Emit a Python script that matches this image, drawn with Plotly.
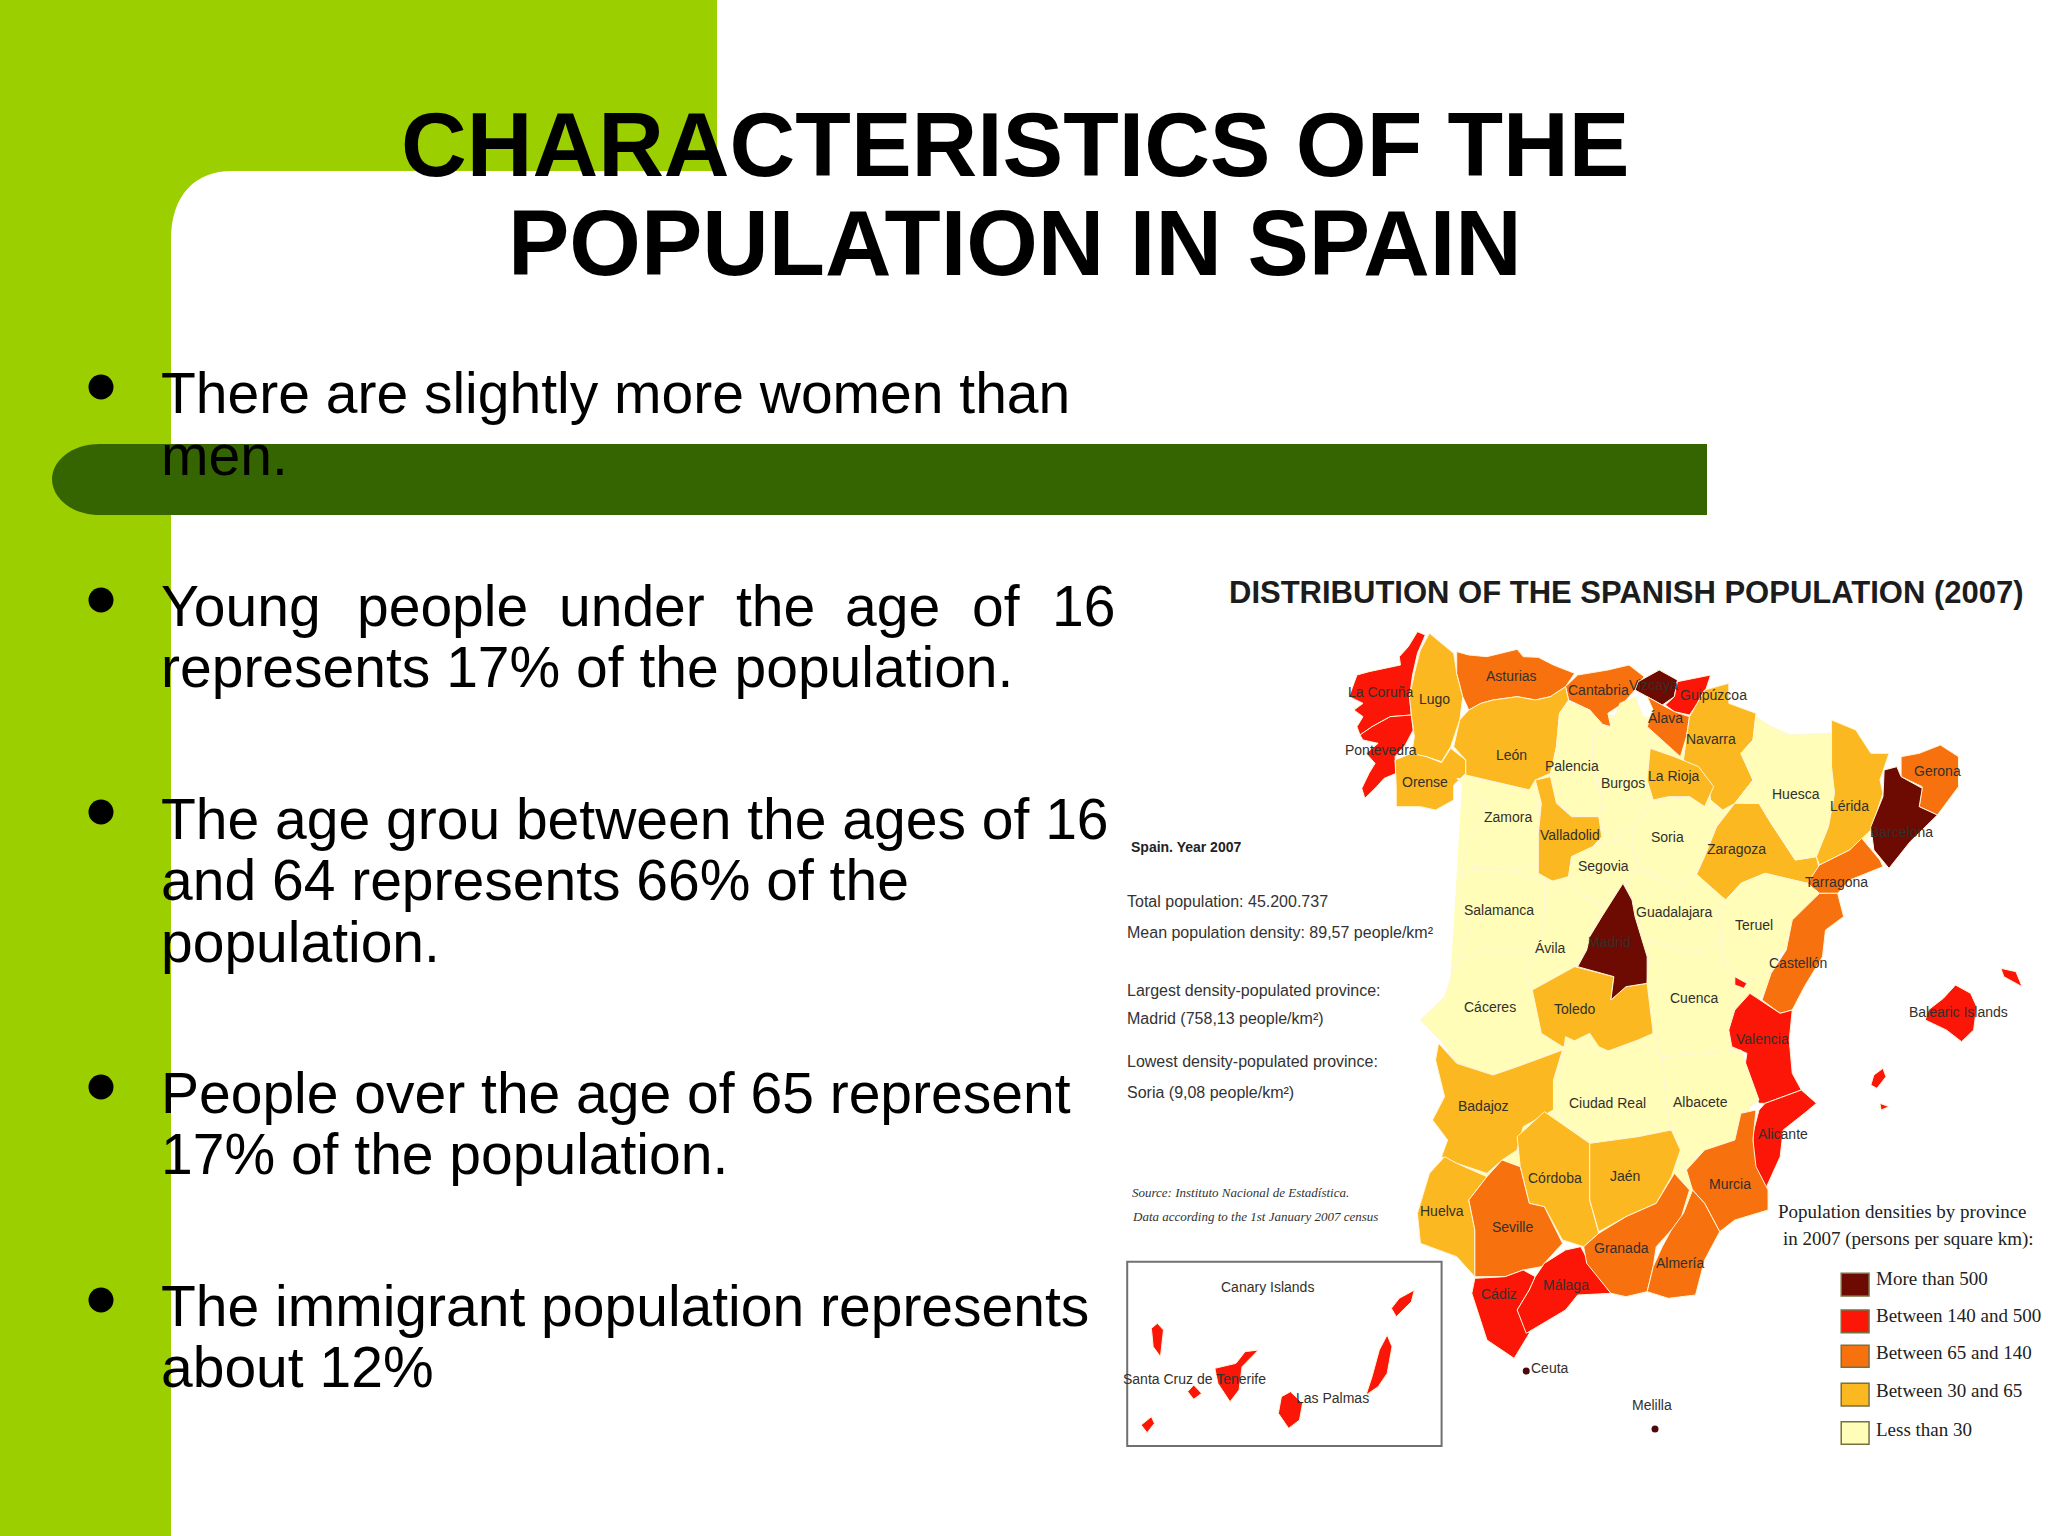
import plotly.graph_objects as go

# ---------- slide text ----------
TITLE_LINES = ["CHARACTERISTICS OF THE", "POPULATION IN SPAIN"]
BODY_LINES = [
    "There are slightly more women than", "men.",
    "represents 17% of the population.",
    "The age grou between the ages of 16", "and 64 represents 66% of the", "population.",
    "People over the age of 65 represent", "17% of the population.",
    "The immigrant population represents", "about 12%",
]
BODY_Y = [393, 455, 667, 819, 880, 942, 1093, 1154, 1306, 1367]
JUSTIFIED_WORDS = ["Young", "people", "under", "the", "age", "of", "16"]
JUSTIFIED_X = [159, 355, 557, 734, 843, 970, 1050]
JUSTIFIED_Y = 606
BULLET_Y = [387, 600, 812, 1087, 1300]

# ---------- map: density classes ----------
CLASS_COLORS = {"gt500": "#6d0a02", "140_500": "#fb1607", "65_140": "#f8710f",
                "30_65": "#fbb820", "lt30": "#fffdb8"}
LEGEND_LABELS = ["More than 500", "Between 140 and 500", "Between 65 and 140",
                 "Between 30 and 65", "Less than 30"]
LEGEND_KEYS = ["gt500", "140_500", "65_140", "30_65", "lt30"]

S = 1380  # offset of the southern half of the traced outlines
def south(pts):
    return [(x, y + S) for x, y in pts]

MAINLAND_FILL = [(600,700),(590,1000),(580,1300),(575,1500),(580,1800),(660,2000),(900,2100),(1050,1900),(1080,1750),(1050,1500),(1100,1350),(1170,1050),(1270,900),(1290,700),(1100,550),(800,520)]

PROVINCES = [
 ("La Coruña", "140_500", [(525,275),(538,285),(525,340),(517,405),(512,470),(515,525),(480,530),(450,560),(430,585),(425,560),(435,530),(420,510),(435,490),(412,470),(418,440),(425,405),(445,395),(470,385),(497,375),(495,350),(510,320)]),
 ("Pontevedra", "140_500", [(515,525),(518,570),(505,615),(488,650),(490,700),(470,715),(455,745),(438,775),(433,745),(445,700),(455,670),(440,640),(460,610),(435,600),(430,585),(450,560),(480,530)]),
 ("Lugo", "30_65", [(545,280),(565,310),(585,340),(590,400),(600,470),(595,540),(580,620),(565,665),(540,650),(515,645),(520,590),(515,525),(512,470),(520,400),(530,330)]),
 ("Orense", "30_65", [(488,660),(515,640),(540,650),(565,668),(580,625),(605,660),(605,700),(585,735),(585,780),(555,810),(530,800),(490,800),(490,740)]),
 ("Asturias", "65_140", [(590,335),(610,345),(640,350),(665,340),(690,328),(700,350),(725,352),(750,375),(785,400),(770,440),(745,470),(720,480),(690,470),(650,480),(630,490),(610,510),(600,470),(590,400)]),
 ("Cantabria", "65_140", [(790,405),(840,390),(875,375),(900,410),(885,450),(865,490),(840,520),(845,560),(825,550),(810,510),(775,480),(770,440)]),
 ("León", "30_65", [(610,510),(630,490),(650,480),(690,470),(720,480),(745,470),(770,440),(775,480),(760,520),(755,620),(745,700),(720,720),(710,750),(650,725),(605,705),(605,660),(585,620),(595,540)]),
 ("Palencia", "lt30", [(760,520),(775,485),(810,510),(830,550),(815,590),(815,680),(830,780),(825,830),(780,830),(750,770),(745,710),(755,620)]),
 ("Burgos", "lt30", [(860,490),(885,470),(905,560),(915,620),(905,720),(915,780),(880,860),(850,900),(830,870),(830,760),(815,660),(815,590),(845,560)]),
 ("Vizcaya", "gt500", [(890,425),(925,390),(955,420),(950,470),(930,495),(905,470),(885,450)]),
 ("Guipúzcoa", "140_500", [(955,425),(1010,405),(1000,460),(975,525),(950,515),(935,495),(950,470)]),
 ("Álava", "65_140", [(905,470),(930,495),(950,515),(975,530),(970,590),(960,650),(930,600),(905,560),(915,510)]),
 ("Navarra", "30_65", [(1000,450),(1040,430),(1040,490),(1085,520),(1080,600),(1060,640),(1080,720),(1050,790),(1030,810),(1010,780),(1005,720),(965,660),(975,530)]),
 ("La Rioja", "30_65", [(910,625),(950,650),(990,680),(1015,740),(1000,800),(975,770),(940,770),(915,780),(905,720)]),
 ("Zamora", "lt30", [(590,715),(650,725),(710,750),(725,790),(725,880),(725,970),(680,990),(620,980),(595,1010),(610,900),(640,800)]),
 ("Valladolid", "30_65", [(720,720),(745,710),(755,790),(780,830),(825,830),(830,890),(815,920),(780,950),(775,1010),(755,1030),(725,1000),(725,880),(730,790)]),
 ("Segovia", "lt30", [(775,1010),(780,950),(815,920),(850,900),(880,920),(890,985),(870,1030),(830,1090),(790,1060)]),
 ("Soria", "lt30", [(880,860),(915,785),(975,770),(1000,800),(1030,810),(1020,860),(1000,950),(985,1000),(950,1040),(895,985),(880,920)]),
 ("Zaragoza", "30_65", [(1050,790),(1090,790),(1110,850),(1150,960),(1185,950),(1190,990),(1170,1030),(1100,1000),(1060,1030),(1035,1080),(985,1010),(1000,950),(1020,860)]),
 ("Huesca", "lt30", [(1085,530),(1130,585),(1210,580),(1210,680),(1215,760),(1205,860),(1185,950),(1150,960),(1110,850),(1090,790),(1050,790),(1080,720),(1060,640),(1080,600)]),
 ("Lérida", "30_65", [(1210,540),(1250,570),(1275,640),(1305,640),(1290,720),(1295,760),(1275,870),(1240,930),(1190,975),(1185,950),(1205,860),(1215,760),(1210,680)]),
 ("Gerona", "65_140", [(1325,650),(1355,640),(1390,615),(1420,650),(1420,740),(1385,825),(1355,800),(1360,740),(1325,710)]),
 ("Barcelona", "gt500", [(1297,690),(1318,680),(1325,710),(1360,745),(1355,800),(1385,825),(1340,905),(1305,985),(1280,930),(1275,860),(1295,770)]),
 ("Tarragona", "65_140", [(1260,895),(1290,960),(1295,980),(1240,1020),(1220,1060),(1190,1060),(1170,1030),(1190,975),(1240,930)]),
 ("Teruel", "lt30", [(1035,1080),(1060,1030),(1100,1000),(1170,1030),(1190,1060),(1180,1100),(1145,1140),(1135,1230),(1110,1250),(1110,1300),(1070,1320),(1030,1280),(1030,1190),(1020,1130)]),
 ("Castellón", "65_140", [(1190,1060),(1220,1060),(1230,1130),(1200,1170),(1195,1250),(1165,1340),(1145,1410),(1125,1420),(1095,1380),(1110,1300),(1135,1230),(1145,1140)]),
 ("Guadalajara", "lt30", [(890,985),(950,1040),(985,1000),(1035,1080),(1020,1130),(1030,1190),(1000,1240),(960,1230),(910,1200),(885,1130),(870,1030)]),
 ("Ávila", "lt30", [(735,1030),(775,1010),(790,1060),(830,1100),(810,1190),(805,1230),(785,1280),(715,1350),(700,1290),(725,1230),(735,1130)]),
 ("Salamanca", "lt30", [(590,1030),(620,985),(680,990),(735,1025),(735,1130),(725,1230),(640,1230),(590,1260),(610,1170)]),
 ("Cáceres", "lt30", [(590,1260),(640,1230),(725,1230),(700,1290),(715,1350),(730,1420),(730,1480),(760,1530),(690,1580),(650,1605),(590,1570),(565,1505),(530,1440),(570,1370)]),
 ("Toledo", "30_65", [(715,1350),(785,1280),(850,1310),(845,1380),(870,1340),(905,1330),(915,1400),(915,1480),(890,1500),(855,1545),(825,1520),(810,1480),(765,1520),(730,1480)]),
 ("Madrid", "gt500", [(865,1030),(880,1080),(885,1130),(905,1250),(905,1330),(870,1340),(845,1380),(850,1310),(790,1280),(805,1230),(810,1190),(830,1130)]),
 ("Cuenca", "lt30", [(910,1200),(960,1230),(1000,1240),(1030,1190),(1030,1280),(1070,1320),(1045,1390),(1045,1500),(1060,1530),(930,1550),(915,1480),(905,1330)]),
 ("Valencia", "140_500", [(1075,1360),(1095,1385),(1125,1420),(1145,1410),(1140,1500),(1145,1600),(1160,1650),(1100,1690),(1090,1690),(1065,1600),(1070,1540),(1045,1520),(1040,1470),(1050,1410)]),
 ("Ademuz", "140_500", [(1050,1310),(1070,1330),(1065,1345),(1050,1335)]),
 ("Alicante", "140_500", south([(1160,270),(1185,310),(1165,340),(1130,390),(1125,470),(1100,570),(1080,500),(1080,400),(1090,330),(1100,310)])),
 ("Albacete", "lt30", south([(930,170),(1060,150),(1090,300),(1060,340),(1050,420),(1000,450),(960,510),(955,440),(945,390),(935,280)])),
 ("Murcia", "65_140", south([(1060,340),(1085,330),(1080,420),(1085,500),(1105,570),(1105,630),(1050,660),(1025,695),(1000,610),(980,570),(970,510),(1000,450),(1050,420)])),
 ("Ciudad Real", "lt30", south([(770,110),(830,160),(890,120),(930,170),(935,280),(945,390),(890,410),(810,430),(750,330),(750,240),(765,180)])),
 ("Badajoz", "30_65", south([(560,130),(590,190),(650,225),(690,200),(765,150),(750,240),(750,330),(700,380),(690,450),(665,480),(640,520),(590,490),(565,470),(575,420),(550,360),(570,290),(555,180)])),
 ("Córdoba", "30_65", south([(735,335),(810,430),(810,600),(825,700),(800,740),(765,720),(735,620),(710,610),(695,500),(690,410)])),
 ("Jaén", "30_65", south([(810,430),(890,410),(945,390),(960,450),(945,530),(920,610),(870,650),(825,695),(810,600)])),
 ("Huelva", "30_65", south([(570,470),(590,490),(640,530),(610,600),(620,690),(620,830),(590,770),(530,730),(525,640),(545,520)])),
 ("Sevilla", "65_140", south([(640,530),(665,480),(695,500),(710,610),(735,620),(765,730),(730,800),(700,810),(670,830),(620,830),(620,690),(610,600)])),
 ("Cádiz", "140_500", south([(620,835),(670,830),(700,810),(720,830),(710,870),(690,930),(710,1000),(685,1075),(640,1020),(615,880)])),
 ("Málaga", "140_500", south([(735,790),(770,750),(795,740),(810,790),(845,880),(790,885),(770,930),(705,1000),(690,930),(710,870),(720,830)])),
 ("Granada", "65_140", south([(825,700),(870,650),(920,610),(950,520),(975,570),(960,660),(945,690),(920,740),(915,800),(905,875),(870,890),(845,880),(805,790),(800,740)])),
 ("Almería", "65_140", south([(980,570),(1000,610),(1025,695),(1000,780),(985,885),(940,895),(905,875),(915,800),(930,740),(945,690),(965,640)])),
 ("Mallorca", "140_500", [(1415,1335),(1440,1360),(1450,1400),(1445,1470),(1425,1505),(1400,1470),(1365,1440),(1370,1410),(1395,1375)]),
 ("Menorca", "140_500", [(1490,1285),(1515,1295),(1525,1340),(1495,1310)]),
 ("Ibiza", "140_500", south([(1295,205),(1300,230),(1285,265),(1275,255),(1280,225)])),
 ("Formentera", "140_500", south([(1290,310),(1305,320),(1292,330)])),
 ("El Hierro", "140_500", south([(85,1250),(90,1270),(78,1298),(68,1275)])),
 ("La Palma", "140_500", south([(95,970),(105,990),(100,1070),(88,1040),(85,985)])),
 ("La Gomera", "140_500", south([(155,1155),(168,1180),(155,1198),(145,1175)])),
 ("Tenerife", "140_500", south([(262,1050),(235,1100),(230,1170),(215,1205),(195,1150),(190,1105),(225,1090),(240,1055)])),
 ("Gran Canaria", "140_500", south([(315,1175),(335,1210),(330,1260),(312,1285),(295,1240),(300,1190)])),
 ("Fuerteventura", "140_500", south([(475,1005),(483,1040),(475,1120),(460,1160),(440,1185),(450,1130),(462,1050)])),
 ("Lanzarote", "140_500", south([(520,870),(515,905),(490,950),(482,925),(495,895)])),
]

CITY_NAMES = ["Ceuta", "Melilla"]
CITY_X = [705, 918]
CITY_Y = [1113 + S, 1287 + S]

MAP_LABELS = [
 ("La Coruña",465,455),("Lugo",553,478),("Asturias",680,408),("Cantabria",825,450),("Vizcaya",915,435),
 ("Guipúzcoa",1015,465),("Álava",935,535),("Navarra",1010,597),("Pontevedra",465,630),("León",680,645),
 ("Orense",537,725),("Palencia",780,678),("Burgos",865,728),("La Rioja",950,708),("Huesca",1152,762),
 ("Lérida",1240,797),("Gerona",1385,692),("Zamora",675,830),("Valladolid",777,885),("Soria",938,890),
 ("Zaragoza",1053,927),("Barcelona",1325,875),("Segovia",833,977),("Tarragona",1218,1025),("Salamanca",660,1110),
 ("Guadalajara",950,1115),("Teruel",1082,1155),("Ávila",745,1225),("Madrid",843,1205),("Castellón",1155,1270),
 ("Cáceres",645,1400),("Toledo",785,1407),("Cuenca",983,1373),("Balearic Islands",1420,1415),
 ("Valencia",1095,118+S),("Badajoz",635,318+S),("Ciudad Real",840,310+S),("Albacete",993,305+S),("Alicante",1130,402+S),
 ("Córdoba",753,533+S),("Jaén",868,527+S),("Murcia",1042,553+S),("Huelva",565,632+S),("Seville",682,680+S),
 ("Granada",862,743+S),("Almería",960,790+S),("Cádiz",660,882+S),("Málaga",770,855+S),("Ceuta",745,1105+S),
 ("Melilla",913,1215+S),("Canary Islands",277,860+S),("Santa Cruz de Tenerife",157,1138+S),("Las Palmas",385,1193+S),
]
INFO_LINES = [
 ("Total population: 45.200.737",42,1085),("Mean population density: 89,57 people/km²",42,1178),
 ("Largest density-populated province:",42,1352),("Madrid (758,13 people/km²)",42,1435),
 ("Lowest density-populated province:",42,185+S),("Soria (9,08 people/km²)",42,277+S),
]
SOURCE_LINES = [("Source: Instituto Nacional de Estadística.",50,578+S),
                ("Data according to the 1st January 2007 census",50,650+S)]

GREEN, DARK = "#9ccf00", "#356500"
SANS, SERIF = "Liberation Sans", "Liberation Serif"

fig = go.Figure()
fig.add_trace(go.Scatter(x=[101]*len(BULLET_Y), y=BULLET_Y, mode="markers",
                         marker=dict(size=25, color="black"), hoverinfo="skip", xaxis="x", yaxis="y"))
fig.add_trace(go.Scatter(x=[p[0] for p in MAINLAND_FILL], y=[p[1] for p in MAINLAND_FILL], mode="lines",
                         fill="toself", fillcolor=CLASS_COLORS["lt30"], line=dict(width=0),
                         hoverinfo="skip", xaxis="x2", yaxis="y2"))
for name, key, pts in PROVINCES:
    fig.add_trace(go.Scatter(x=[p[0] for p in pts]+[pts[0][0]], y=[p[1] for p in pts]+[pts[0][1]],
                             mode="lines", fill="toself", fillcolor=CLASS_COLORS[key],
                             line=dict(color="#fff6d8", width=1), name=name, xaxis="x2", yaxis="y2"))
fig.add_trace(go.Scatter(x=CITY_X, y=CITY_Y, mode="markers", text=CITY_NAMES,
                         marker=dict(size=7, color="#4a0a08"), xaxis="x2", yaxis="y2"))

def rect(x0, y0, x1, y1, color):
    return dict(type="rect", xref="x", yref="y", x0=x0, y0=y0, x1=x1, y1=y1,
                fillcolor=color, line_width=0, layer="below")
def path(d, color):
    return dict(type="path", xref="x", yref="y", path=d, fillcolor=color, line_width=0, layer="below")

shapes = [
    rect(0, 0, 171, 1536, GREEN),
    rect(171, 0, 717, 171, GREEN),
    path("M171,171 L232,171 C195,171 171,195 171,240 Z", GREEN),
    path("M1707,444 L100,444 C70,444 52,462 52,479 C52,497 70,515 100,515 L1707,515 Z", DARK),
]
shapes.append(dict(type="rect", xref="x2", yref="y2", x0=45, y0=785+S, x1=565, y1=1338+S,
                   line=dict(color="#707070", width=2), fillcolor="rgba(0,0,0,0)"))
SWATCH_TOP = [820, 930, 1036, 1150, 1265]
SWATCH_BOTTOM = [888, 998, 1102, 1218, 1333]
LEGEND_TEXT_Y = [835, 947, 1058, 1170, 1288]
for key, t, b in zip(LEGEND_KEYS, SWATCH_TOP, SWATCH_BOTTOM):
    shapes.append(dict(type="rect", xref="x2", yref="y2", x0=1226, y0=t+S, x1=1272, y1=b+S,
                       fillcolor=CLASS_COLORS[key], line=dict(color="#777040", width=1.5)))

ann = []
def note(text, x, y, size, family=SANS, color="black", anchor="left", ref="map", bold=False, italic=False):
    if bold: text = f"<b>{text}</b>"
    if italic: text = f"<i>{text}</i>"
    ann.append(dict(text=text, x=x, y=y, xref="x2" if ref == "map" else "x", yref="y2" if ref == "map" else "y",
                    xanchor=anchor, yanchor="middle", showarrow=False,
                    font=dict(size=size, family=family, color=color)))

note(TITLE_LINES[0], 1015, 144, 91, anchor="center", ref="page", bold=True)
note(TITLE_LINES[1], 1015, 243, 92, anchor="center", ref="page", bold=True)
for line, y in zip(BODY_LINES, BODY_Y):
    note(line, 159, y, 57, ref="page")
for w, x in zip(JUSTIFIED_WORDS, JUSTIFIED_X):
    note(w, x, JUSTIFIED_Y, 57, ref="page")

note("DISTRIBUTION OF THE SPANISH POPULATION (2007)", 210, 157, 31, bold=True, color="#1c1c1c")
note("Spain. Year 2007", 48, 920, 14, bold=True, color="#222")
for t, x, y in INFO_LINES:
    note(t, x, y, 16, color="#333")
for t, x, y in SOURCE_LINES:
    note(t, x, y, 13, family=SERIF, italic=True, color="#333")
for t, x, y in MAP_LABELS:
    note(t, x, y, 14, color="#33302a", anchor="center")
note("Population densities by province", 1328, 635+S, 19, family=SERIF, anchor="center", color="#222")
note("in 2007 (persons per square km):", 1337, 718+S, 19, family=SERIF, anchor="center", color="#222")
for t, y in zip(LEGEND_LABELS, LEGEND_TEXT_Y):
    note(t, 1280, y+S, 19, family=SERIF, color="#222")

hidden = dict(visible=False, showgrid=False, zeroline=False, fixedrange=True)
fig.update_layout(
    width=2048, height=1536, margin=dict(l=0, r=0, t=0, b=0),
    paper_bgcolor="white", plot_bgcolor="rgba(0,0,0,0)", showlegend=False,
    xaxis=dict(range=[0, 2048], domain=[0, 1], **hidden),
    yaxis=dict(range=[1536, 0], domain=[0, 1], **hidden),
    xaxis2=dict(range=[-1819.4, 1568], domain=[0, 1], overlaying="x", **hidden),
    yaxis2=dict(range=[2988, -1620], domain=[0, 1], overlaying="y", **hidden),
    shapes=shapes, annotations=ann,
)
fig.write_html("out.html", config=dict(displayModeBar=False),
               post_script="document.body.style.margin='0';")
